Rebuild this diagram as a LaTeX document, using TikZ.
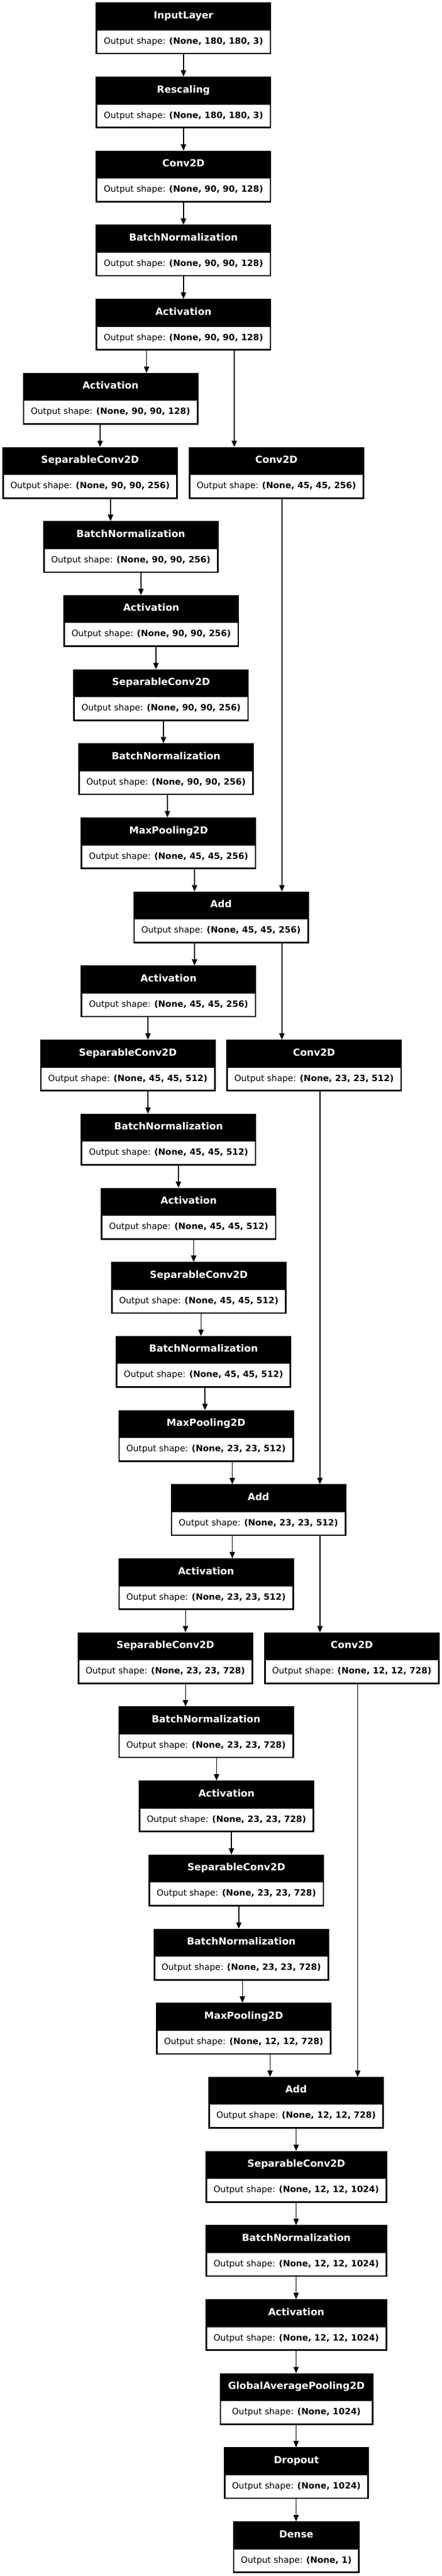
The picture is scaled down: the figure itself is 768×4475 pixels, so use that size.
\documentclass[tikz,border=0pt]{standalone}
\usepackage{fontspec}
\setmainfont{DejaVu Sans}
\usetikzlibrary{arrows.meta}
\tikzset{
  layerbox/.style={rectangle, fill=black, draw=none, inner sep=0pt, outer sep=0pt, minimum height=90pt},
  titletext/.style={anchor=base, inner sep=0pt, text=white, font=\fontsize{17}{20}\selectfont\bfseries},
  shapetext/.style={anchor=base, inner sep=0pt, text=black, font=\fontsize{15}{18}\selectfont},
  arr/.style={line width=1.4pt, draw=black, -{Triangle[length=11pt,width=9.3pt]}}
}
\newcommand{\mylayer}[6]{%
  \pgfmathsetmacro\myyc{-(4.3+(#3-1)*128.7+45)}%
  \node[layerbox, minimum width=#4pt] (#1) at (#2pt,\myyc pt) {};
  \fill[white] ([xshift=2.7pt,yshift=-48.5pt]#1.north west) rectangle ([xshift=-2.7pt,yshift=2.7pt]#1.south east);
  \node[titletext] (#1-t) at ([yshift=-28pt]#1.north) {#5};
  \node[shapetext] (#1-s) at ([yshift=-72pt]#1.north) {Output shape: \textbf{#6}};
}
\newcommand{\myconn}[3]{%
  \coordinate (cx) at (#3pt,0);
  \draw[arr] (#1.south -| cx) -- (#2.north -| cx);
}
\begin{document}
\begin{tikzpicture}
\useasboundingbox[fill=white] (0,0) rectangle (768pt,-4475pt);
\mylayer{l1}{318.8}{1}{305}{InputLayer}{(None, 180, 180, 3)}
\mylayer{l2}{318.8}{2}{305}{Rescaling}{(None, 180, 180, 3)}
\mylayer{l3}{318.8}{3}{305}{Conv2D}{(None, 90, 90, 128)}
\mylayer{l4}{318.8}{4}{305}{BatchNormalization}{(None, 90, 90, 128)}
\mylayer{l5}{318.8}{5}{305}{Activation}{(None, 90, 90, 128)}
\mylayer{l6}{192}{6}{305}{Activation}{(None, 90, 90, 128)}
\mylayer{l7}{156.5}{7}{305}{SeparableConv2D}{(None, 90, 90, 256)}
\mylayer{r7}{480.3}{7}{305}{Conv2D}{(None, 45, 45, 256)}
\mylayer{l8}{227.3}{8}{305}{BatchNormalization}{(None, 90, 90, 256)}
\mylayer{l9}{262.8}{9}{305}{Activation}{(None, 90, 90, 256)}
\mylayer{l10}{279.9}{10}{305}{SeparableConv2D}{(None, 90, 90, 256)}
\mylayer{l11}{288.5}{11}{305}{BatchNormalization}{(None, 90, 90, 256)}
\mylayer{l12}{292.9}{12}{305}{MaxPooling2D}{(None, 45, 45, 256)}
\mylayer{l13}{384}{13}{305}{Add}{(None, 45, 45, 256)}
\mylayer{l14}{292.9}{14}{305}{Activation}{(None, 45, 45, 256)}
\mylayer{l15}{222.1}{15}{305}{SeparableConv2D}{(None, 45, 45, 512)}
\mylayer{r15}{545.7}{15}{305}{Conv2D}{(None, 23, 23, 512)}
\mylayer{l16}{292.9}{16}{305}{BatchNormalization}{(None, 45, 45, 512)}
\mylayer{l17}{327.9}{17}{305}{Activation}{(None, 45, 45, 512)}
\mylayer{l18}{345.5}{18}{305}{SeparableConv2D}{(None, 45, 45, 512)}
\mylayer{l19}{353.6}{19}{305}{BatchNormalization}{(None, 45, 45, 512)}
\mylayer{l20}{358}{20}{305}{MaxPooling2D}{(None, 23, 23, 512)}
\mylayer{l21}{449.1}{21}{305}{Add}{(None, 23, 23, 512)}
\mylayer{l22}{358}{22}{305}{Activation}{(None, 23, 23, 512)}
\mylayer{l23}{287.3}{23}{305}{SeparableConv2D}{(None, 23, 23, 728)}
\mylayer{r23}{611.3}{23}{305}{Conv2D}{(None, 12, 12, 728)}
\mylayer{l24}{358}{24}{305}{BatchNormalization}{(None, 23, 23, 728)}
\mylayer{l25}{393.5}{25}{305}{Activation}{(None, 23, 23, 728)}
\mylayer{l26}{410.7}{26}{305}{SeparableConv2D}{(None, 23, 23, 728)}
\mylayer{l27}{419.3}{27}{305}{BatchNormalization}{(None, 23, 23, 728)}
\mylayer{l28}{423.4}{28}{305}{MaxPooling2D}{(None, 12, 12, 728)}
\mylayer{l29}{514.5}{29}{305}{Add}{(None, 12, 12, 728)}
\mylayer{l30}{514.8}{30}{315.5}{SeparableConv2D}{(None, 12, 12, 1024)}
\mylayer{l31}{514.8}{31}{315.5}{BatchNormalization}{(None, 12, 12, 1024)}
\mylayer{l32}{514.8}{32}{315.5}{Activation}{(None, 12, 12, 1024)}
\mylayer{l33}{515}{33}{267}{GlobalAveragePooling2D}{(None, 1024)}
\mylayer{l34}{515}{34}{252}{Dropout}{(None, 1024)}
\mylayer{l35}{514.8}{35}{220.4}{Dense}{(None, 1)}
\myconn{l1}{l2}{318.8}
\myconn{l2}{l3}{318.8}
\myconn{l3}{l4}{318.8}
\myconn{l4}{l5}{318.8}
\myconn{l5}{l6}{254.7}
\myconn{l5}{r7}{407}
\myconn{l6}{l7}{173.9}
\myconn{l7}{l8}{192}
\myconn{l8}{l9}{244.9}
\myconn{l9}{l10}{270.9}
\myconn{l10}{l11}{284}
\myconn{l11}{l12}{290.9}
\myconn{l12}{l13}{338}
\myconn{r7}{l13}{489.8}
\myconn{l13}{l14}{338}
\myconn{l13}{r15}{489.8}
\myconn{l14}{l15}{257.1}
\myconn{l15}{l16}{257.1}
\myconn{l16}{l17}{310}
\myconn{l17}{l18}{336.5}
\myconn{l18}{l19}{349.2}
\myconn{l19}{l20}{356.1}
\myconn{l20}{l21}{403.6}
\myconn{r15}{l21}{555.9}
\myconn{l21}{l22}{403.6}
\myconn{l21}{r23}{555.9}
\myconn{l22}{l23}{322.3}
\myconn{l23}{l24}{322.3}
\myconn{l24}{l25}{376.2}
\myconn{l25}{l26}{402.1}
\myconn{l26}{l27}{414.9}
\myconn{l27}{l28}{421.2}
\myconn{l28}{l29}{469.2}
\myconn{r23}{l29}{621.5}
\myconn{l29}{l30}{514.5}
\myconn{l30}{l31}{514.5}
\myconn{l31}{l32}{514.5}
\myconn{l32}{l33}{514.5}
\myconn{l33}{l34}{514.5}
\myconn{l34}{l35}{514.5}
\end{tikzpicture}
\end{document}
